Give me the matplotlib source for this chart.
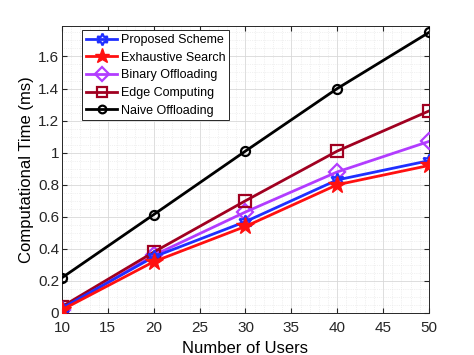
import matplotlib
matplotlib.use('Agg')
import matplotlib.pyplot as plt
import numpy as np

#-------------------------------------------------------------------------
# Data
#-------------------------------------------------------------------------

users       = [10, 20, 30, 40, 50]
proposed    = [0.03, 0.35, 0.57, 0.83, 0.95]
exhaustive  = [0.02, 0.32, 0.54, 0.80, 0.92]
binary      = [0.02, 0.36, 0.63, 0.88, 1.07]
edge        = [0.04, 0.38, 0.70, 1.01, 1.26]
naive       = [0.22, 0.614, 1.01, 1.40, 1.75]

#-------------------------------------------------------------------------
# Configure matplotlib
#-------------------------------------------------------------------------

plt.rcParams['font.family'] = ['Liberation Sans', 'DejaVu Sans']
plt.rcParams['font.size']   = 10

fig = plt.figure(figsize=(4.74, 3.55), dpi=100)
ax = fig.add_axes([62/474, 1-313/355, (429-62)/474, (313-26)/355])

lw = 2.0
ax.plot(users, proposed, color='#1f2fff', lw=lw, marker=(6, 1, 0), ms=10,
        mfc='none', mew=1.6, label='Proposed Scheme', zorder=4)
ax.plot(users, exhaustive, color='#ff1010', lw=lw, marker='*', ms=13,
        mfc='#ff1010', mew=1.0, label='Exhaustive Search', zorder=5)
ax.plot(users, binary, color='#b23cff', lw=lw, marker='D', ms=8,
        mfc='none', mew=1.6, label='Binary Offloading', zorder=3)
ax.plot(users, edge, color='#a00020', lw=lw, marker='s', ms=8,
        mfc='none', mew=1.6, label='Edge Computing', zorder=3)
ax.plot(users, naive, color='black', lw=lw, marker='o', ms=6.5,
        mfc='none', mew=1.6, label='Naive Offloading', zorder=3)

ax.set_xlim(10, 50)
ax.set_ylim(0, 1.79)
ax.set_xticks(np.arange(10, 51, 5))
ax.set_yticks([0, 0.2, 0.4, 0.6, 0.8, 1.0, 1.2, 1.4, 1.6])
ax.set_yticklabels(['0', '0.2', '0.4', '0.6', '0.8', '1', '1.2', '1.4', '1.6'])
ax.set_xticks(np.arange(10, 51, 1), minor=True)
ax.set_yticks(np.arange(0, 1.79, 0.05), minor=True)

ax.grid(which='major', color='#d8d8d8', lw=0.6)
ax.grid(which='minor', color='#e4e4e4', lw=0.5, ls=':')
ax.set_axisbelow(True)

ax.tick_params(which='both', direction='in', top=True, right=True,
               colors='#262626', labelsize=11)
ax.tick_params(axis='x', pad=6)
ax.tick_params(axis='y', pad=2)
ax.tick_params(which='minor', length=0)
for s in ax.spines.values():
  s.set_color('#262626')
  s.set_linewidth(0.7)

ax.set_xlabel('Number of Users', fontsize=12)
ax.set_ylabel('Computational Time (ms)', fontsize=12, labelpad=3)

leg = ax.legend(loc='upper left', bbox_to_anchor=(0.055, 0.985), fontsize=9,
                fancybox=False, edgecolor='#262626', framealpha=1,
                handlelength=2.5, handletextpad=0.3, labelspacing=0.45,
                borderpad=0.3, borderaxespad=0, markerscale=0.85)
leg.get_frame().set_linewidth(0.7)

plt.savefig('out.png', dpi=100)
